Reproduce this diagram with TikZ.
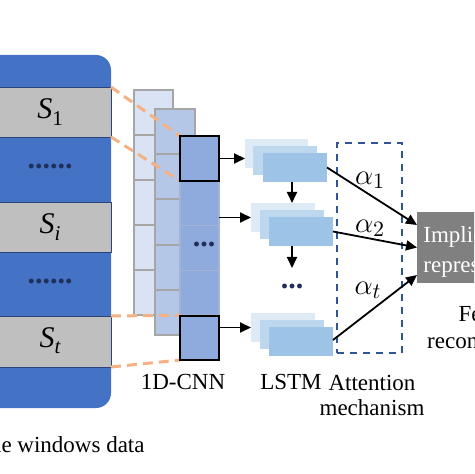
\documentclass[tikz,border=0pt]{standalone}
\usepackage{fontspec}
\setmainfont{Liberation Serif}
\usetikzlibrary{fit,arrows.meta}
\definecolor{winblue}{HTML}{4472C4}
\definecolor{stripegray}{HTML}{BFBFBF}
\definecolor{cnnA}{HTML}{DAE3F3}
\definecolor{cnnB}{HTML}{B4C7E7}
\definecolor{cnnC}{HTML}{8FAADC}
\definecolor{cellgray}{HTML}{A6A6A6}
\definecolor{cnnCline}{HTML}{A3B3D3}
\definecolor{lstmA}{HTML}{DEEBF7}
\definecolor{lstmB}{HTML}{BDD7EE}
\definecolor{lstmC}{HTML}{9DC3E6}
\definecolor{dashorange}{HTML}{F4B183}
\definecolor{attblue}{HTML}{2F5597}
\definecolor{navy}{HTML}{1F2E5A}
\definecolor{implgray}{HTML}{808080}
\begin{document}
\begin{tikzpicture}[x=0.5pt,y=-0.5pt,
  lbl/.style={font=\fontsize{11.5}{13}\selectfont, inner sep=0},
  fitbox/.style={inner sep=0, outer sep=0},
  stripe/.style={fitbox, fill=stripegray, draw=winblue!60!black, line width=0.4pt},
  slabel/.style={font=\fontsize{15}{15}\selectfont, inner sep=0},
  cellA/.style={fitbox, fill=cnnA, draw=cellgray, line width=1pt},
  cellB/.style={fitbox, fill=cnnB, draw=cellgray, line width=1pt},
  cellC/.style={fitbox, fill=cnnC, draw=cnnCline, line width=0.8pt},
  hl/.style={fitbox, fill=cnnC, draw=black, line width=1.3pt},
  lstmback/.style={fitbox, fill=lstmA},
  lstmmid/.style={fitbox, fill=lstmB},
  lstmfront/.style={fitbox, fill=lstmC},
  arr/.style={-{Triangle[length=5.5pt,width=5pt]}, line width=0.9pt},
  orangedash/.style={draw=dashorange, line width=1.5pt, dash pattern=on 5pt off 3pt},
  attbox/.style={fitbox, draw=attblue, line width=1pt, dash pattern=on 3.5pt off 3pt},
  dotstyle/.style={text=navy, font=\bfseries\fontsize{15}{15}\selectfont, inner sep=0},
  alphalbl/.style={font=\fontsize{15}{15}\selectfont, inner sep=0}
]
\useasboundingbox (0,0) rectangle (474,474);
\clip (0,0) rectangle (474,474);

% time windows block
\node[fitbox, fill=winblue, rounded corners=7.5pt, fit={(-40,55) (111,408)}] (win) {};
\node[stripe, fit={(-10,87) (111,137)}] (s1) {};
\node[stripe, fit={(-10,202) (111,252)}] (si) {};
\node[stripe, fit={(-10,316) (111,367)}] (st) {};
\node[slabel] at (50,112) {\itshape S\raisebox{-0.45ex}{\upshape\fontsize{10.5}{10.5}\selectfont 1}};
\node[slabel] at (50,227) {\itshape S\raisebox{-0.45ex}{\fontsize{10.5}{10.5}\selectfont i}};
\node[slabel] at (50,341) {\itshape S\raisebox{-0.45ex}{\fontsize{10.5}{10.5}\selectfont t}};
\node[dotstyle] (wd1) at (50,166) {......};
\node[dotstyle] (wd2) at (50,281) {......};
\node[lbl, anchor=east] (wlabel) at (145,445) {Time windows data};

% 1D-CNN columns
\foreach \i in {0,...,4} {
  \node[cellA, fit={(134,{90+45*\i}) (173,{135+45*\i})}] (c1-\i) {};
}
\foreach \i in {0,...,4} {
  \node[cellB, fit={(155,{109+45.2*\i}) (195,{154.2+45.2*\i})}] (c2-\i) {};
}
\node[fitbox, fill=cnnC, fit={(180,136) (219,360)}] (col3) {};
\foreach \i in {0,...,4} {
  \node[cellC, fit={(180,{136+44.8*\i}) (219,{180.8+44.8*\i})}] (c3-\i) {};
}
\node[dotstyle] (cdots) at (204,244) {...};

% orange dashed projections
\draw[orangedash] (s1.north east) -- (c3-0.north west);
\draw[orangedash] (s1.south east) -- (c3-0.south west);
\draw[orangedash] (st.north east) -- (c3-4.north west);
\draw[orangedash] (st.south east) -- (c3-4.south west);

\node[hl, fit={(180,136) (219,181)}] (h1) {};
\node[hl, fit={(180,316) (219,360)}] (h2) {};

\node[lbl] (cnnlbl) at (183,382) {1D-CNN};

% LSTM stacks
\node[lstmback, fit={(245,139) (308,168)}] (l1b) {};
\node[lstmmid, fit={(253,146) (317,175)}] (l1m) {};
\node[lstmfront, fit={(263,153) (327,182)}] (l1f) {};

\node[lstmback, fit={(251,203) (315,232)}] (l2b) {};
\node[lstmmid, fit={(260,210) (324,239)}] (l2m) {};
\node[lstmfront, fit={(269,217) (333,246)}] (l2f) {};

\node[lstmback, fit={(251,313) (315,342)}] (l3b) {};
\node[lstmmid, fit={(260,320) (324,349)}] (l3m) {};
\node[lstmfront, fit={(269,327) (333,356)}] (l3f) {};

\node[dotstyle] (ldots) at (292,286) {...};
\coordinate (d2end) at (292,268);
\node[lbl] (lstmlbl) at (291,382) {LSTM};

\draw[arr] (h1.east) -- (h1.east -| l1b.west);
\draw[arr] (c3-1.east |- l2b.west) -- (l2b.west);
\draw[arr] (h2.east |- l3b.west) -- (l3b.west);
\draw[arr] (l1f.south -| ldots) -- (l2b.north -| ldots);
\draw[arr] (l2f.south -| ldots) -- (d2end);

% attention
\node[attbox, fit={(337,143) (402,353)}] (att) {};
\node[lbl, align=center] (attlbl) at (372,395) {Attention\\[-0.5pt]mechanism};

\node[fitbox, fill=implgray, fit={(417,212) (520,283)}] (impl) {};
\node[lbl, anchor=west, align=left, text=white, font=\fontsize{11.5}{15}\selectfont] (impltxt) at (423,252) {Implicit\\representation};
\node[lbl, align=center, font=\fontsize{11.5}{13.5}\selectfont] (featlbl) at (493,328) {Feature\\reconstruction};

\draw[arr] (l1f.east) -- ([yshift=11.25pt]impl.west);
\draw[arr] (l2f.east) -- (impl.west);
\draw[arr] ([yshift=0.75pt]l3f.east) -- ([yshift=-13.75pt]impl.west);

\node[alphalbl] (a1) at (370,180) {$\alpha_1$};
\node[alphalbl] (a2) at (370,228) {$\alpha_2$};
\node[alphalbl] (at) at (368,290) {$\alpha_t$};
\end{tikzpicture}
\end{document}
